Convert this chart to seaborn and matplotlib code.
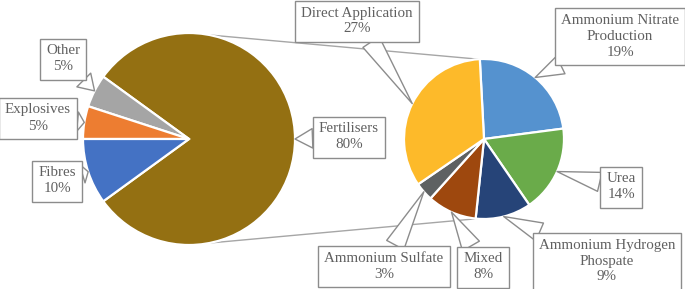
"""Pie-of-pie: ammonia end uses, with the fertiliser share split out."""

import matplotlib

matplotlib.use("Agg")
import matplotlib.pyplot as plt  # noqa: E402
import numpy as np  # noqa: E402
import seaborn as sns  # noqa: E402

# main pie (percent of total)
main_labels = ["Fertilisers", "Other", "Explosives", "Fibres"]
main_values = [80, 5, 5, 10]
main_colors = ["#947012", "#A5A5A5", "#ED7D31", "#4472C4"]

# breakdown of the fertiliser slice (percent of total)
sub_labels = [
    "Ammonium Nitrate\nProduction",
    "Urea",
    "Ammonium Hydrogen\nPhospate",
    "Mixed",
    "Ammonium Sulfate",
    "Direct Application",
]
sub_values = [19, 14, 9, 8, 3, 27]
sub_colors = ["#5592CF", "#6AAB4A", "#264478", "#9E480E", "#5E6162", "#FDBA2A"]

# label box centres (x, y) in figure pixels, y measured upward
main_label_pos = [(349, 152), (63, 230), (38, 171), (57, 108)]
sub_label_pos = [(620, 253), (621, 102), (607, 28), (483, 22), (384, 23), (357, 268)]

TEXT = "#606060"
EDGE = "#8C8C8C"

sns.set_theme(style="white")
plt.rcParams["font.family"] = ["Liberation Serif", "DejaVu Serif"]

fig = plt.figure(figsize=(6.85, 2.89), dpi=100)
ax = fig.add_axes([0, 0, 1, 1])

c1, r1 = (189, 150), 106
c2, r2 = (484, 150), 80

w1, _ = ax.pie(
    main_values, colors=main_colors, startangle=-144, counterclock=True,
    center=c1, radius=r1, wedgeprops=dict(edgecolor="white", linewidth=1.6),
)
w2, _ = ax.pie(
    sub_values, colors=sub_colors, startangle=93, counterclock=False,
    center=c2, radius=r2, wedgeprops=dict(edgecolor="white", linewidth=1.6),
)

# connector lines between the two pies
for a1, a2 in [(79, 94), (-79, -95)]:
    p1 = (c1[0] + r1 * np.cos(np.radians(a1)), c1[1] + r1 * np.sin(np.radians(a1)))
    p2 = (c2[0] + r2 * np.cos(np.radians(a2)), c2[1] + r2 * np.sin(np.radians(a2)))
    ax.plot([p1[0], p2[0]], [p1[1], p2[1]], color="#A6A6A6", lw=1.0, zorder=0)


def label(wedges, names, values, positions, center, radius):
    for w, name, val, pos in zip(wedges, names, values, positions):
        mid = np.radians((w.theta1 + w.theta2) / 2)
        tip = (center[0] + radius * np.cos(mid), center[1] + radius * np.sin(mid))
        ax.annotate(
            f"{name}\n{val}%",
            xy=tip, xytext=pos, ha="center", va="center", multialignment="center",
            fontsize=10.8, color=TEXT, linespacing=1.3,
            bbox=dict(boxstyle="square,pad=0.4", fc="white", ec=EDGE, lw=1.0),
            arrowprops=dict(
                arrowstyle="wedge,tail_width=1.3,shrink_factor=0.5",
                fc="white", ec=EDGE, lw=1.0, shrinkA=0, shrinkB=0,
            ),
            zorder=5,
        )


label(w1, main_labels, main_values, main_label_pos, c1, r1)
label(w2, sub_labels, sub_values, sub_label_pos, c2, r2)

ax.set_xlim(0, 685)
ax.set_ylim(0, 289)
ax.set_aspect("equal")
ax.set_axis_off()

fig.savefig("out.png", dpi=100)
